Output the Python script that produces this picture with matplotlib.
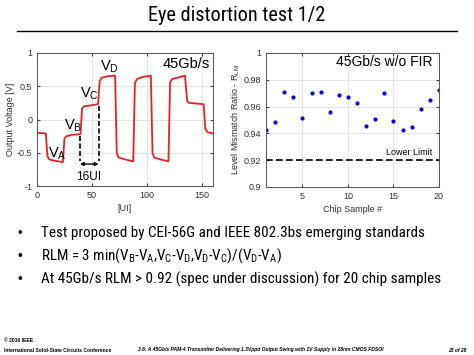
import matplotlib.pyplot as plt

# waveform (UI, V)
ui = [0, 8, 9.5, 11, 16, 23.5, 25, 27, 32, 39.5, 41, 43, 48, 55.5, 57, 59, 64, 71,
      72.5, 74, 80, 87.5, 89, 91, 96, 103.5, 105, 106.5, 112, 119.5, 121, 123, 128,
      134.5, 136.5, 138, 145, 151.5, 153, 155, 160]
volts = [-0.20, -0.21, -0.55, -0.60, -0.62, -0.64, -0.28, -0.25, -0.23, -0.22, 0.17,
         0.20, 0.21, 0.23, 0.58, 0.63, 0.65, 0.66, -0.50, -0.57, -0.60, -0.63, 0.55,
         0.61, 0.64, 0.66, -0.50, -0.57, -0.60, -0.63, 0.56, 0.61, 0.63, 0.66, 0.28,
         0.25, 0.24, 0.23, -0.14, -0.19, -0.21]

# RLM per chip sample
chips = list(range(1, 21))
rlm = [0.9423, 0.9483, 0.9709, 0.9672, 0.9512, 0.9701, 0.9709, 0.9557, 0.9684, 0.9674,
       0.9624, 0.9458, 0.9507, 0.9701, 0.9490, 0.9428, 0.9448, 0.9580, 0.9649, 0.9721]
lower_limit = 0.92

bullets = [
    "Test proposed by CEI-56G and IEEE 802.3bs emerging standards",
    r"RLM = 3 min($\mathregular{V_B}$-$\mathregular{V_A}$,$\mathregular{V_C}$-$\mathregular{V_D}$,"
    r"$\mathregular{V_D}$-$\mathregular{V_C}$)/($\mathregular{V_D}$-$\mathregular{V_A}$)",
    "At 45Gb/s RLM > 0.92 (spec under discussion) for 20 chip samples",
]

NARROW = ["Roboto Condensed", "DejaVu Sans"]
plt.rcParams["font.family"] = ["Liberation Sans", "DejaVu Sans"]
TICK = "#404040"

fig = plt.figure(figsize=(4.74, 3.55), dpi=100)

fig.text(0.5, 0.957, "Eye distortion test 1/2", ha="center", va="center",
         fontsize=14.6, family=NARROW)
fig.add_artist(plt.Line2D([17 / 474, 457 / 474], [1 - 31 / 355] * 2, color="black", lw=1))


def style(ax):
    ax.grid(True, color="#e0e0e0", lw=0.6)
    ax.set_axisbelow(True)
    ax.tick_params(direction="in", labelsize=6.5, colors=TICK, length=2.5,
                   top=True, right=True, labelcolor="#303030")
    for s in ax.spines.values():
        s.set_color("#555555")
        s.set_linewidth(0.7)


# left: waveform
ax1 = fig.add_axes([37 / 474, 1 - 186 / 355, 176 / 474, 133 / 355])
ax1.plot(ui, volts, color="#e8202a", lw=1.3)
ax1.set_xlim(0, 160)
ax1.set_ylim(-1, 1)
ax1.set_xticks([0, 50, 100, 150])
ax1.set_yticks([-1, -0.5, 0, 0.5, 1])
ax1.set_yticklabels(["-1", "-0.5", "0", "0.5", "1"])
style(ax1)
ax1.set_xlabel("[UI]", fontsize=6.5, color="#303030", labelpad=3)
ax1.set_ylabel("Output Voltage [V]", fontsize=6.5, color="#303030", labelpad=1.5)
ax1.text(157.5, 0.84, "45Gb/s", ha="right", va="center", fontsize=10.5)
for lab, x, y in [("A", 10, -0.52), ("B", 24.5, -0.1), ("C", 39, 0.39), ("D", 57, 0.8)]:
    ax1.text(x, y, r"$\mathregular{V_%s}$" % lab, ha="left", va="center", fontsize=10.5)
ax1.plot([39, 39], [-0.25, -0.62], color="black", lw=1.2, ls=(0, (3, 1.5)))
ax1.plot([56, 56], [0.2, -0.62], color="black", lw=1.2, ls=(0, (3, 1.5)))
ax1.annotate("", xy=(39, -0.67), xytext=(56, -0.67),
             arrowprops=dict(arrowstyle="<|-|>", color="black", lw=1, mutation_scale=5,
                             shrinkA=0, shrinkB=0))
ax1.text(46.5, -0.86, "16UI", ha="center", va="center", fontsize=8.5)

# right: RLM scatter
ax2 = fig.add_axes([266 / 474, 1 - 187 / 355, 173 / 474, 134 / 355])
ax2.plot(chips, rlm, "o", color="#0000cc", ms=3, mec="none")
ax2.axhline(lower_limit, color="black", lw=1.2, ls=(0, (4, 2)))
ax2.set_xlim(1, 20)
ax2.set_ylim(0.9, 1)
ax2.set_xticks([5, 10, 15, 20])
ax2.set_yticks([0.9, 0.92, 0.94, 0.96, 0.98, 1])
ax2.set_yticklabels(["0.9", "0.92", "0.94", "0.96", "0.98", "1"])
style(ax2)
ax2.set_xlabel("Chip Sample #", fontsize=6.5, color="#303030", labelpad=3)
ax2.set_ylabel(r"Level Mismatch Ratio - $\mathregular{R_{LM}}$", fontsize=6.5,
               color="#303030", labelpad=1)
ax2.text(19.3, 0.9255, "Lower Limit", ha="right", va="center", fontsize=6.5)
ax2.text(19.3, 0.9935, "45Gb/s w/o FIR", ha="right", va="center", fontsize=10)

# bullets
for i, line in enumerate(bullets):
    y = 1 - (233 + 23 * i) / 355
    fig.text(17 / 474, y, "\u2022", ha="left", va="center", fontsize=10)
    fig.text(41 / 474, y, line, ha="left", va="center", fontsize=10.9, family=NARROW)

# footer
fig.text(4 / 474, 1 - 341 / 355, "\u00a9 2016 IEEE", fontsize=3.6, fontweight="bold",
         va="center")
fig.text(4 / 474, 1 - 350 / 355, "International Solid-State Circuits Conference",
         fontsize=3.6, fontweight="bold", va="center")
fig.text(261 / 474, 1 - 350 / 355,
         "3.6: A 45Gb/s PAM-4 Transmitter Delivering 1.3Vppd Output Swing with 1V Supply in 28nm CMOS FDSOI",
         fontsize=3.6, fontweight="bold", style="italic", ha="center", va="center")
fig.text(466 / 474, 1 - 350 / 355, "25 of 28", fontsize=3.6, fontweight="bold",
         style="italic", ha="right", va="center")

fig.savefig("out.png", dpi=100)
